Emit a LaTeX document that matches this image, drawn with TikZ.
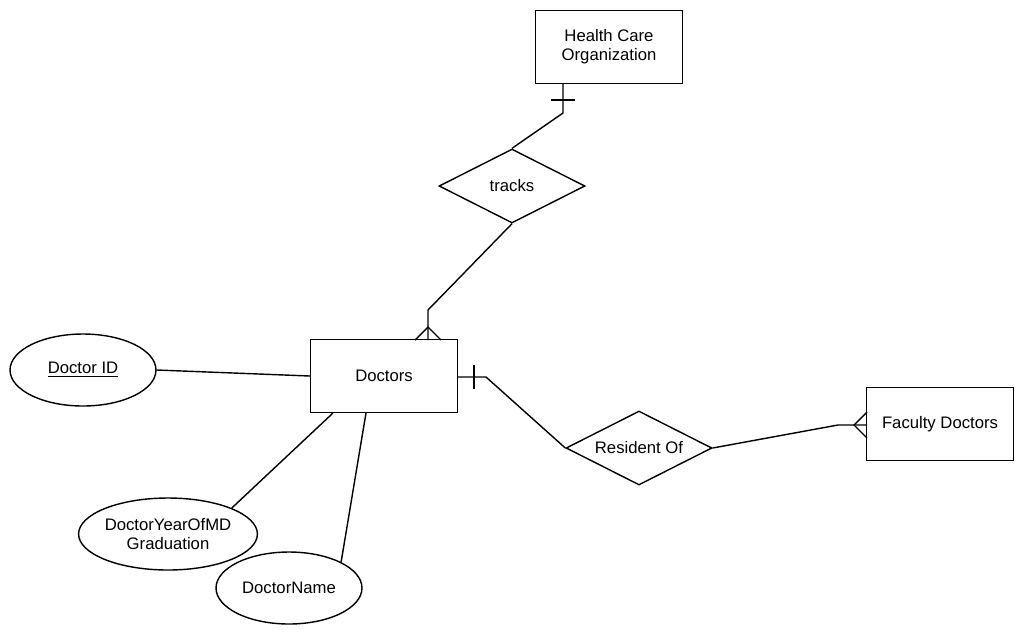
\documentclass[tikz,border=0pt]{standalone}
\usepackage{fontspec}
\setmainfont{Liberation Sans}
\usetikzlibrary{shapes.geometric,calc}
\tikzset{
  ent/.style={draw, thick, minimum width=2.94cm, minimum height=1.46cm, align=center, font=\fontsize{9.5}{11}\selectfont},
  rel/.style={draw, thick, diamond, aspect=2, minimum width=2.92cm, minimum height=1.48cm, inner sep=0pt, font=\fontsize{9.5}{11}\selectfont},
  att/.style={draw, thick, ellipse, minimum width=2.92cm, minimum height=1.44cm, inner sep=0pt, align=center, font=\fontsize{9.5}{11}\selectfont},
  ln/.style={thick}
}
\begin{document}
\begin{tikzpicture}[x=0.02cm, y=-0.02cm]
		\useasboundingbox (0,0) rectangle (1024,637);
		% entities
		\node[ent] (HCO) at (609,47) {Health Care\\Organization} ;
		\node[ent] (Doc) at (384,376) {Doctors} ;
		\node[ent] (Fac) at (940,424) {Faculty Doctors} ;
		% relations
		\node[rel] (Tracks) at (512,186) {tracks} ;
		\node[rel] (Res) at (639,448) {Resident Of} ;
		% attributes
		\node[att] (DocID) at (83,370) {\underline{Doctor ID}} ;
		\node[att] (DocYear) at (168,534) {DoctorYearOfMD\\Graduation} ;
		\node[att] (DocName) at (289,588) {DoctorName} ;
		% bend points
		\coordinate (HCOb) at (563,84) ;
		\coordinate (B1) at (563,113) ;
		\coordinate (B2) at (428,310) ;
		\coordinate (DocT) at (428,340) ;
		\coordinate (DocR) at (458,377) ;
		\coordinate (B3) at (486,377) ;
		\coordinate (B4) at (838,425) ;
		\coordinate (FacL) at (867,425) ;
		% tracks
		\draw[ln] (HCOb) -- (B1) -- (Tracks.north) ;
		\draw[ln] (551,100) -- (575,100) ;
		\draw[ln] (Tracks.south) -- (B2) -- (DocT) ;
		\draw[ln] (415,340) -- (428,327) -- (441,340) ;
		% resident of
		\draw[ln] (DocR) -- (B3) -- (Res.west) ;
		\draw[ln] (474,365) -- (474,389) ;
		\draw[ln] (Res.east) -- (B4) -- (FacL) ;
		\draw[ln] (867,412) -- (854,425) -- (867,438) ;
		% attributes
		\draw[ln] (DocID.east) -- (Doc.west) ;
		\draw[ln] (333,413) -- (DocYear.north east) ;
		\draw[ln] (366,413) -- (DocName.north east) ;
\end{tikzpicture}
\end{document}
